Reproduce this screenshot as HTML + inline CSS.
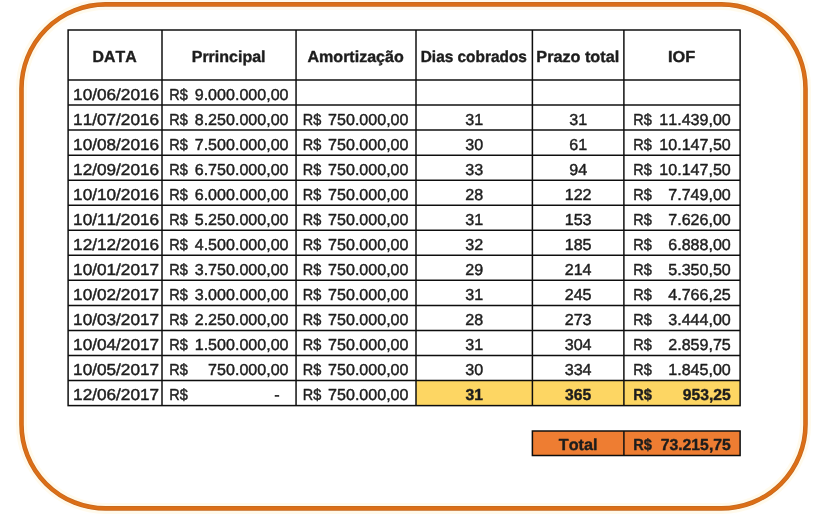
<!DOCTYPE html>
<html lang="pt-BR"><head><meta charset="utf-8"><title>Tabela IOF</title>
<style>html,body{margin:0;padding:0;background:#fff;}body{width:829px;height:517px;overflow:hidden;}svg{display:block;}</style>
</head><body>
<svg width="829" height="517" viewBox="0 0 829 517">
<defs><filter id="soft" x="0" y="0" width="829" height="517" filterUnits="userSpaceOnUse"><feGaussianBlur stdDeviation="0.35"/></filter></defs>
<rect x="0" y="0" width="829" height="517" fill="#ffffff"/>
<g filter="url(#soft)">
<rect x="21.5" y="4.4" width="784.0" height="504.0" rx="84" ry="84" fill="none" stroke="#FFF6DC" stroke-opacity="0.55" stroke-width="11"/>
<rect x="21.5" y="4.4" width="784.0" height="504.0" rx="84" ry="84" fill="none" stroke="#C36A22" stroke-width="4.6"/>
<rect x="21.5" y="4.4" width="784.0" height="504.0" rx="84" ry="84" fill="none" stroke="#DC6E14" stroke-width="3.10"/>
<rect x="416.0" y="380.54" width="324.10" height="25.05" fill="#FDD663"/>
<rect x="532.4" y="431.0" width="207.70" height="24.5" fill="#EE7D31"/>
<g stroke="#101010" stroke-width="1.5" fill="none">
<rect x="68.1" y="30.0" width="672.00" height="375.59"/>
<line x1="162.0" y1="30.0" x2="162.0" y2="405.59"/>
<line x1="296.05" y1="30.0" x2="296.05" y2="405.59"/>
<line x1="416.0" y1="30.0" x2="416.0" y2="405.59"/>
<line x1="532.4" y1="30.0" x2="532.4" y2="405.59"/>
<line x1="623.9" y1="30.0" x2="623.9" y2="405.59"/>
<line x1="68.1" y1="80.00" x2="740.1" y2="80.00"/>
<line x1="68.1" y1="105.05" x2="740.1" y2="105.05"/>
<line x1="68.1" y1="130.09" x2="740.1" y2="130.09"/>
<line x1="68.1" y1="155.13" x2="740.1" y2="155.13"/>
<line x1="68.1" y1="180.18" x2="740.1" y2="180.18"/>
<line x1="68.1" y1="205.23" x2="740.1" y2="205.23"/>
<line x1="68.1" y1="230.27" x2="740.1" y2="230.27"/>
<line x1="68.1" y1="255.31" x2="740.1" y2="255.31"/>
<line x1="68.1" y1="280.36" x2="740.1" y2="280.36"/>
<line x1="68.1" y1="305.41" x2="740.1" y2="305.41"/>
<line x1="68.1" y1="330.45" x2="740.1" y2="330.45"/>
<line x1="68.1" y1="355.50" x2="740.1" y2="355.50"/>
<line x1="68.1" y1="380.54" x2="740.1" y2="380.54"/>
<rect x="532.4" y="431.0" width="207.70" height="24.5"/>
<line x1="623.9" y1="431.0" x2="623.9" y2="455.5"/>
</g>
<g font-family="'Liberation Sans', sans-serif" font-size="15.9" fill="#1e1e1e" stroke="#1e1e1e" stroke-width="0.45" stroke-linejoin="round" text-rendering="geometricPrecision" style="font-kerning:none" transform="matrix(1 0.0001 0 1 0 0)">
<text x="92.60" y="61.60" textLength="44.10" lengthAdjust="spacingAndGlyphs" font-weight="bold" stroke-width="0.4">DATA</text>
<text x="191.71" y="61.60" textLength="73.84" lengthAdjust="spacingAndGlyphs" font-weight="bold" stroke-width="0.4">Prrincipal</text>
<text x="307.51" y="61.60" textLength="96.23" lengthAdjust="spacingAndGlyphs" font-weight="bold" stroke-width="0.4">Amortização</text>
<text x="420.74" y="61.60" textLength="106.13" lengthAdjust="spacingAndGlyphs" font-weight="bold" stroke-width="0.4">Dias cobrados</text>
<text x="536.33" y="61.60" textLength="82.84" lengthAdjust="spacingAndGlyphs" font-weight="bold" stroke-width="0.4">Prazo total</text>
<text x="668.00" y="61.60" textLength="27.21" lengthAdjust="spacingAndGlyphs" font-weight="bold" stroke-width="0.4">IOF</text>
<text x="73.10" y="99.50" textLength="86.00" lengthAdjust="spacingAndGlyphs">10/06/2016</text>
<text x="169.30" y="99.50" textLength="18.53" lengthAdjust="spacingAndGlyphs">R$</text>
<text x="194.72" y="99.50" textLength="93.83" lengthAdjust="spacingAndGlyphs">9.000.000,00</text>
<text x="73.10" y="124.55" textLength="86.00" lengthAdjust="spacingAndGlyphs">11/07/2016</text>
<text x="169.30" y="124.55" textLength="18.53" lengthAdjust="spacingAndGlyphs">R$</text>
<text x="194.72" y="124.55" textLength="93.83" lengthAdjust="spacingAndGlyphs">8.250.000,00</text>
<text x="302.85" y="124.55" textLength="18.53" lengthAdjust="spacingAndGlyphs">R$</text>
<text x="328.08" y="124.55" textLength="80.42" lengthAdjust="spacingAndGlyphs">750.000,00</text>
<text x="465.25" y="124.55" textLength="17.89" lengthAdjust="spacingAndGlyphs">31</text>
<text x="569.20" y="124.55" textLength="17.89" lengthAdjust="spacingAndGlyphs">31</text>
<text x="633.20" y="124.55" textLength="18.53" lengthAdjust="spacingAndGlyphs">R$</text>
<text x="659.32" y="124.55" textLength="71.48" lengthAdjust="spacingAndGlyphs">11.439,00</text>
<text x="73.10" y="149.59" textLength="86.00" lengthAdjust="spacingAndGlyphs">10/08/2016</text>
<text x="169.30" y="149.59" textLength="18.53" lengthAdjust="spacingAndGlyphs">R$</text>
<text x="194.72" y="149.59" textLength="93.83" lengthAdjust="spacingAndGlyphs">7.500.000,00</text>
<text x="302.85" y="149.59" textLength="18.53" lengthAdjust="spacingAndGlyphs">R$</text>
<text x="328.08" y="149.59" textLength="80.42" lengthAdjust="spacingAndGlyphs">750.000,00</text>
<text x="465.25" y="149.59" textLength="17.89" lengthAdjust="spacingAndGlyphs">30</text>
<text x="569.20" y="149.59" textLength="17.89" lengthAdjust="spacingAndGlyphs">61</text>
<text x="633.20" y="149.59" textLength="18.53" lengthAdjust="spacingAndGlyphs">R$</text>
<text x="659.32" y="149.59" textLength="71.48" lengthAdjust="spacingAndGlyphs">10.147,50</text>
<text x="73.10" y="174.63" textLength="86.00" lengthAdjust="spacingAndGlyphs">12/09/2016</text>
<text x="169.30" y="174.63" textLength="18.53" lengthAdjust="spacingAndGlyphs">R$</text>
<text x="194.72" y="174.63" textLength="93.83" lengthAdjust="spacingAndGlyphs">6.750.000,00</text>
<text x="302.85" y="174.63" textLength="18.53" lengthAdjust="spacingAndGlyphs">R$</text>
<text x="328.08" y="174.63" textLength="80.42" lengthAdjust="spacingAndGlyphs">750.000,00</text>
<text x="465.25" y="174.63" textLength="17.89" lengthAdjust="spacingAndGlyphs">33</text>
<text x="569.20" y="174.63" textLength="17.89" lengthAdjust="spacingAndGlyphs">94</text>
<text x="633.20" y="174.63" textLength="18.53" lengthAdjust="spacingAndGlyphs">R$</text>
<text x="659.32" y="174.63" textLength="71.48" lengthAdjust="spacingAndGlyphs">10.147,50</text>
<text x="73.10" y="199.68" textLength="86.00" lengthAdjust="spacingAndGlyphs">10/10/2016</text>
<text x="169.30" y="199.68" textLength="18.53" lengthAdjust="spacingAndGlyphs">R$</text>
<text x="194.72" y="199.68" textLength="93.83" lengthAdjust="spacingAndGlyphs">6.000.000,00</text>
<text x="302.85" y="199.68" textLength="18.53" lengthAdjust="spacingAndGlyphs">R$</text>
<text x="328.08" y="199.68" textLength="80.42" lengthAdjust="spacingAndGlyphs">750.000,00</text>
<text x="465.25" y="199.68" textLength="17.89" lengthAdjust="spacingAndGlyphs">28</text>
<text x="564.73" y="199.68" textLength="26.84" lengthAdjust="spacingAndGlyphs">122</text>
<text x="633.20" y="199.68" textLength="18.53" lengthAdjust="spacingAndGlyphs">R$</text>
<text x="668.27" y="199.68" textLength="62.53" lengthAdjust="spacingAndGlyphs">7.749,00</text>
<text x="73.10" y="224.73" textLength="86.00" lengthAdjust="spacingAndGlyphs">10/11/2016</text>
<text x="169.30" y="224.73" textLength="18.53" lengthAdjust="spacingAndGlyphs">R$</text>
<text x="194.72" y="224.73" textLength="93.83" lengthAdjust="spacingAndGlyphs">5.250.000,00</text>
<text x="302.85" y="224.73" textLength="18.53" lengthAdjust="spacingAndGlyphs">R$</text>
<text x="328.08" y="224.73" textLength="80.42" lengthAdjust="spacingAndGlyphs">750.000,00</text>
<text x="465.25" y="224.73" textLength="17.89" lengthAdjust="spacingAndGlyphs">31</text>
<text x="564.73" y="224.73" textLength="26.84" lengthAdjust="spacingAndGlyphs">153</text>
<text x="633.20" y="224.73" textLength="18.53" lengthAdjust="spacingAndGlyphs">R$</text>
<text x="668.27" y="224.73" textLength="62.53" lengthAdjust="spacingAndGlyphs">7.626,00</text>
<text x="73.10" y="249.77" textLength="86.00" lengthAdjust="spacingAndGlyphs">12/12/2016</text>
<text x="169.30" y="249.77" textLength="18.53" lengthAdjust="spacingAndGlyphs">R$</text>
<text x="194.72" y="249.77" textLength="93.83" lengthAdjust="spacingAndGlyphs">4.500.000,00</text>
<text x="302.85" y="249.77" textLength="18.53" lengthAdjust="spacingAndGlyphs">R$</text>
<text x="328.08" y="249.77" textLength="80.42" lengthAdjust="spacingAndGlyphs">750.000,00</text>
<text x="465.25" y="249.77" textLength="17.89" lengthAdjust="spacingAndGlyphs">32</text>
<text x="564.73" y="249.77" textLength="26.84" lengthAdjust="spacingAndGlyphs">185</text>
<text x="633.20" y="249.77" textLength="18.53" lengthAdjust="spacingAndGlyphs">R$</text>
<text x="668.27" y="249.77" textLength="62.53" lengthAdjust="spacingAndGlyphs">6.888,00</text>
<text x="73.10" y="274.81" textLength="86.00" lengthAdjust="spacingAndGlyphs">10/01/2017</text>
<text x="169.30" y="274.81" textLength="18.53" lengthAdjust="spacingAndGlyphs">R$</text>
<text x="194.72" y="274.81" textLength="93.83" lengthAdjust="spacingAndGlyphs">3.750.000,00</text>
<text x="302.85" y="274.81" textLength="18.53" lengthAdjust="spacingAndGlyphs">R$</text>
<text x="328.08" y="274.81" textLength="80.42" lengthAdjust="spacingAndGlyphs">750.000,00</text>
<text x="465.25" y="274.81" textLength="17.89" lengthAdjust="spacingAndGlyphs">29</text>
<text x="564.73" y="274.81" textLength="26.84" lengthAdjust="spacingAndGlyphs">214</text>
<text x="633.20" y="274.81" textLength="18.53" lengthAdjust="spacingAndGlyphs">R$</text>
<text x="668.27" y="274.81" textLength="62.53" lengthAdjust="spacingAndGlyphs">5.350,50</text>
<text x="73.10" y="299.86" textLength="86.00" lengthAdjust="spacingAndGlyphs">10/02/2017</text>
<text x="169.30" y="299.86" textLength="18.53" lengthAdjust="spacingAndGlyphs">R$</text>
<text x="194.72" y="299.86" textLength="93.83" lengthAdjust="spacingAndGlyphs">3.000.000,00</text>
<text x="302.85" y="299.86" textLength="18.53" lengthAdjust="spacingAndGlyphs">R$</text>
<text x="328.08" y="299.86" textLength="80.42" lengthAdjust="spacingAndGlyphs">750.000,00</text>
<text x="465.25" y="299.86" textLength="17.89" lengthAdjust="spacingAndGlyphs">31</text>
<text x="564.73" y="299.86" textLength="26.84" lengthAdjust="spacingAndGlyphs">245</text>
<text x="633.20" y="299.86" textLength="18.53" lengthAdjust="spacingAndGlyphs">R$</text>
<text x="668.27" y="299.86" textLength="62.53" lengthAdjust="spacingAndGlyphs">4.766,25</text>
<text x="73.10" y="324.91" textLength="86.00" lengthAdjust="spacingAndGlyphs">10/03/2017</text>
<text x="169.30" y="324.91" textLength="18.53" lengthAdjust="spacingAndGlyphs">R$</text>
<text x="194.72" y="324.91" textLength="93.83" lengthAdjust="spacingAndGlyphs">2.250.000,00</text>
<text x="302.85" y="324.91" textLength="18.53" lengthAdjust="spacingAndGlyphs">R$</text>
<text x="328.08" y="324.91" textLength="80.42" lengthAdjust="spacingAndGlyphs">750.000,00</text>
<text x="465.25" y="324.91" textLength="17.89" lengthAdjust="spacingAndGlyphs">28</text>
<text x="564.73" y="324.91" textLength="26.84" lengthAdjust="spacingAndGlyphs">273</text>
<text x="633.20" y="324.91" textLength="18.53" lengthAdjust="spacingAndGlyphs">R$</text>
<text x="668.27" y="324.91" textLength="62.53" lengthAdjust="spacingAndGlyphs">3.444,00</text>
<text x="73.10" y="349.95" textLength="86.00" lengthAdjust="spacingAndGlyphs">10/04/2017</text>
<text x="169.30" y="349.95" textLength="18.53" lengthAdjust="spacingAndGlyphs">R$</text>
<text x="194.72" y="349.95" textLength="93.83" lengthAdjust="spacingAndGlyphs">1.500.000,00</text>
<text x="302.85" y="349.95" textLength="18.53" lengthAdjust="spacingAndGlyphs">R$</text>
<text x="328.08" y="349.95" textLength="80.42" lengthAdjust="spacingAndGlyphs">750.000,00</text>
<text x="465.25" y="349.95" textLength="17.89" lengthAdjust="spacingAndGlyphs">31</text>
<text x="564.73" y="349.95" textLength="26.84" lengthAdjust="spacingAndGlyphs">304</text>
<text x="633.20" y="349.95" textLength="18.53" lengthAdjust="spacingAndGlyphs">R$</text>
<text x="668.27" y="349.95" textLength="62.53" lengthAdjust="spacingAndGlyphs">2.859,75</text>
<text x="73.10" y="375.00" textLength="86.00" lengthAdjust="spacingAndGlyphs">10/05/2017</text>
<text x="169.30" y="375.00" textLength="18.53" lengthAdjust="spacingAndGlyphs">R$</text>
<text x="208.13" y="375.00" textLength="80.42" lengthAdjust="spacingAndGlyphs">750.000,00</text>
<text x="302.85" y="375.00" textLength="18.53" lengthAdjust="spacingAndGlyphs">R$</text>
<text x="328.08" y="375.00" textLength="80.42" lengthAdjust="spacingAndGlyphs">750.000,00</text>
<text x="465.25" y="375.00" textLength="17.89" lengthAdjust="spacingAndGlyphs">30</text>
<text x="564.73" y="375.00" textLength="26.84" lengthAdjust="spacingAndGlyphs">334</text>
<text x="633.20" y="375.00" textLength="18.53" lengthAdjust="spacingAndGlyphs">R$</text>
<text x="668.27" y="375.00" textLength="62.53" lengthAdjust="spacingAndGlyphs">1.845,00</text>
<text x="73.10" y="400.04" textLength="86.00" lengthAdjust="spacingAndGlyphs">12/06/2017</text>
<text x="169.30" y="400.04" textLength="18.53" lengthAdjust="spacingAndGlyphs">R$</text>
<text x="274.35" y="400.04" textLength="5.40" lengthAdjust="spacingAndGlyphs">-</text>
<text x="302.85" y="400.04" textLength="18.53" lengthAdjust="spacingAndGlyphs">R$</text>
<text x="328.08" y="400.04" textLength="80.42" lengthAdjust="spacingAndGlyphs">750.000,00</text>
<text x="465.48" y="400.04" textLength="17.44" lengthAdjust="spacingAndGlyphs" font-weight="bold" stroke-width="0.4">31</text>
<text x="565.07" y="400.04" textLength="26.17" lengthAdjust="spacingAndGlyphs" font-weight="bold" stroke-width="0.4">365</text>
<text x="633.20" y="400.04" textLength="18.69" lengthAdjust="spacingAndGlyphs" font-weight="bold" stroke-width="0.4">R$</text>
<text x="682.75" y="400.04" textLength="48.05" lengthAdjust="spacingAndGlyphs" font-weight="bold" stroke-width="0.4">953,25</text>
<text x="558.80" y="449.90" textLength="38.70" lengthAdjust="spacingAndGlyphs" font-weight="bold" stroke-width="0.4">Total</text>
<text x="633.20" y="449.90" textLength="18.69" lengthAdjust="spacingAndGlyphs" font-weight="bold" stroke-width="0.4">R$</text>
<text x="660.71" y="449.90" textLength="70.09" lengthAdjust="spacingAndGlyphs" font-weight="bold" stroke-width="0.4">73.215,75</text>
</g>
</g>
</svg>
</body></html>
